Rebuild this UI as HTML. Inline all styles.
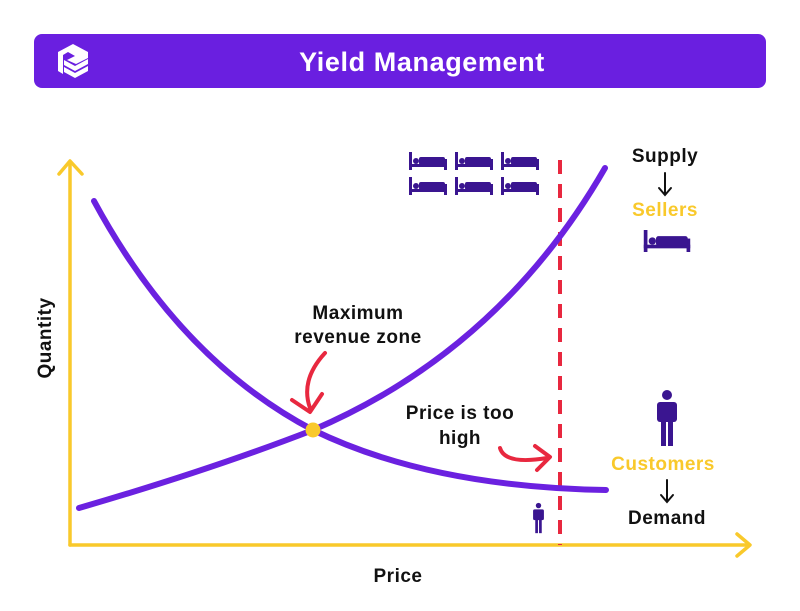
<!DOCTYPE html>
<html><head><meta charset="utf-8"><style>
html,body{margin:0;padding:0;background:#fff;}
svg{display:block;}
text{font-family:"Liberation Sans",sans-serif;font-weight:bold;}
</style></head><body>
<svg width="800" height="611" viewBox="0 0 800 611" xmlns="http://www.w3.org/2000/svg">
<defs>
<symbol id="bed" viewBox="0 0 38 18">
<rect x="0" y="0" width="3" height="18" fill="#3a1590"/>
<rect x="0" y="12" width="38" height="3" fill="#3a1590"/>
<rect x="35" y="7" width="3" height="11" fill="#3a1590"/>
<circle cx="7" cy="9" r="3" fill="#3a1590"/>
<rect x="10" y="5" width="26" height="8" rx="2" fill="#3a1590"/>
</symbol>
<symbol id="person" viewBox="0 0 24 56">
<circle cx="12" cy="5" r="5" fill="#3a1590"/>
<rect x="2" y="12" width="20" height="20" rx="3" fill="#3a1590"/>
<rect x="6" y="28" width="5" height="28" fill="#3a1590"/>
<rect x="13" y="28" width="5" height="28" fill="#3a1590"/>
</symbol>
</defs>
<rect x="34" y="34" width="732" height="54" rx="8" fill="#6a1fe0"/>
<g fill="#fff">
<path d="M58 52 L73 44 L88 52 L88 58 L76 64 L67 60 L75 56 L68 52 L63 55 L63 74 L58 71 Z"/>
<path d="M64 60 L75 66 L88 59 L88 64 L75 71 L64 65 Z"/>
<path d="M64 67 L75 73 L88 66 L88 71 L75 78 L64 72 Z"/>
</g>
<text x="422" y="71" fill="#fff" font-size="27" letter-spacing="0.6" text-anchor="middle">Yield Management</text>

<g stroke="#f9c92b" stroke-width="3.5" fill="none" stroke-linecap="round" stroke-linejoin="round">
<line x1="70" y1="545" x2="70" y2="162"/>
<polyline points="59,174 70,161 82,174"/>
<line x1="70" y1="545" x2="748" y2="545"/>
<polyline points="737,534 750,545 737,556"/>
</g>

<line x1="560" y1="160" x2="560" y2="545" stroke="#e8283f" stroke-width="4" stroke-dasharray="14 10"/>

<g stroke="#6b21e0" stroke-width="6" fill="none" stroke-linecap="round">
<path d="M94 201 Q180 360 313 430 Q430 487 606 490"/>
<path d="M79 508 Q210 470 313 430 Q500 350 605 168"/>
</g>
<circle cx="313" cy="430" r="7.5" fill="#f9c92b"/>

<g stroke="#e8283f" stroke-width="4" fill="none" stroke-linecap="round" stroke-linejoin="round">
<path d="M325 353 Q300 380 310 408"/>
<polyline points="292,400 310,412 322,394"/>
<path d="M500 448 Q505 465 547 458"/>
<polyline points="535,446 550,457 537,470"/>
</g>

<g font-size="19" letter-spacing="0.5" fill="#111" text-anchor="middle">
<text x="358" y="319">Maximum</text>
<text x="358" y="343">revenue zone</text>
<text x="460" y="419">Price is too</text>
<text x="460" y="444">high</text>
<text x="398" y="582">Price</text>
<text transform="translate(51,338) rotate(-90)">Quantity</text>
<text x="665" y="162">Supply</text>
<text x="665" y="216" fill="#f9c92b">Sellers</text>
<text x="663" y="470" fill="#f9c92b">Customers</text>
<text x="667" y="524">Demand</text>
</g>
<g stroke="#111" stroke-width="2" fill="none" stroke-linecap="round">
<line x1="665" y1="173" x2="665" y2="194"/>
<polyline points="659,188 665,195 671,188"/>
<line x1="667" y1="480" x2="667" y2="501"/>
<polyline points="661,495 667,502 673,495"/>
</g>
<use href="#bed" x="643" y="230" width="48" height="22"/>

<use href="#bed" x="409" y="152" width="38" height="18"/>
<use href="#bed" x="455" y="152" width="38" height="18"/>
<use href="#bed" x="501" y="152" width="38" height="18"/>
<use href="#bed" x="409" y="177" width="38" height="18"/>
<use href="#bed" x="455" y="177" width="38" height="18"/>
<use href="#bed" x="501" y="177" width="38" height="18"/>

<use href="#person" x="655" y="390" width="24" height="56"/>
<use href="#person" x="532" y="502" width="13" height="32"/>
</svg>
</body></html>
